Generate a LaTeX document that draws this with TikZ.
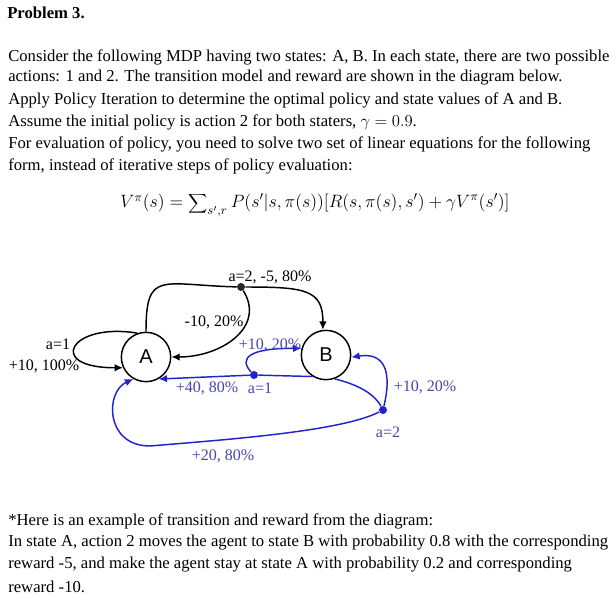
\RequirePackage{fix-cm}
\documentclass[tikz,border=0pt]{standalone}
\usepackage{fontspec}
\setmainfont{Liberation Serif}
\newfontfamily\statefont{Liberation Sans}
\usetikzlibrary{arrows.meta}
\definecolor{ActBlue}{RGB}{35, 35, 205}
\definecolor{LabelBlue}{RGB}{70, 70, 175}
\definecolor{DotGray}{RGB}{40, 40, 40}

\begin{document}
\begin{tikzpicture}[x=0.75pt, y=-0.75pt,
    body/.style={anchor=west, inner sep=0pt, font=\fontsize{12.5}{15}\selectfont},
    state/.style={draw, circle, line width=1.1pt, minimum size=37pt, inner sep=0pt,
        font=\statefont\fontsize{15}{15}\selectfont},
    actdot/.style={circle, fill, inner sep=0pt, minimum size=6pt},
    blk/.style={line width=1.1pt},
    blu/.style={ActBlue, line width=1.1pt},
    tip/.style={-{Latex[length=2.2mm, width=2mm]}},
    lbl/.style={inner sep=0pt, font=\fontsize{12}{14}\selectfont},
    bluelbl/.style={lbl, LabelBlue}]
    \fill[white] (0,0) rectangle (616,599);
    \useasboundingbox (0,0) rectangle (616,599);
    % problem text
    \node[body, font=\bfseries\fontsize{12.5}{15}\selectfont] (title) at (7,13) {Problem 3.};
    \node[body] (t1) at (8,57) {Consider the following MDP having two states: A, B. In each state, there are two possible};
    \node[body] (t2) at (8,78) {actions: 1 and 2. The transition model and reward are shown in the diagram below.};
    \node[body] (t3) at (8,100) {Apply Policy Iteration to determine the optimal policy and state values of A and B.};
    \node[body] (t4) at (8,122) {Assume the initial policy is action 2 for both staters, $\gamma = 0.9$.};
    \node[body] (t5) at (8,144) {For evaluation of policy, you need to solve two set of linear equations for the following};
    \node[body] (t6) at (8,166) {form, instead of iterative steps of policy evaluation:};
    \node[body, font=\fontsize{13.4}{16}\selectfont] (eq) at (120,205)
        {$V^{\pi}(s) = \displaystyle\sum\nolimits_{s',r} P(s'|s,\pi(s))[R(s,\pi(s),s') + \gamma V^{\pi}(s')]$};
    % states and action points
    \node[state] (A) at (146,357) {A};
    \node[state] (B) at (326,355) {B};
    \node[actdot, DotGray] (dA2) at (241,287) {};
    \node[actdot, ActBlue] (dB1) at (254,375) {};
    \node[actdot, ActBlue] (dB2) at (383,410) {};
    % action 1 in A
    \draw[blk, tip] (A.110) .. controls (70,322) and (45,368) .. (A.205);
    \node[lbl] (la1) at (58,344) {a=1};
    \node[lbl] (la1r) at (44,366) {+10, 100\%};
    % action 2 in A
    \draw[blk] (A.north) .. controls +(0,-62) and +(-80,-2) .. (dA2);
    \draw[blk, tip] (dA2) .. controls +(65,0) and +(0,-40) .. (B.97);
    \draw[blk, tip] (dA2) .. controls +(25,40) and +(50,0) .. (A.east);
    \node[lbl] (la2) at (270,277) {a=2, -5, 80\%};
    \node[lbl] (la2s) at (214,322) {-10, 20\%};
    % action 1 in B
    \draw[blu] (B.238) -- (dB1);
    \draw[blu, tip] (dB1) -- (A.300);
    \draw[blu, tip] (dB1) .. controls (238,358) and (250,348) .. (B.165);
    \node[bluelbl] (lb1s) at (270,345) {+10, 20\%};
    \node[bluelbl] (lb1) at (207,388) {+40, 80\%};
    \node[bluelbl] (lb1a) at (260,388) {a=1};
    % action 2 in B
    \draw[blu] (B.290) .. controls (360,385) and (375,395) .. (dB2);
    \draw[blu, tip] (dB2) .. controls (392,372) and (385,352) .. (B.-5);
    \draw[blu, tip] (dB2) .. controls (340,432) and (220,440) .. (150,446)
        .. controls (105,446) and (105,392) .. (A.240);
    \node[bluelbl] (lb2s) at (425,387) {+10, 20\%};
    \node[bluelbl] (lb2a) at (388,432) {a=2};
    \node[bluelbl] (lb2) at (223,456) {+20, 80\%};
    % example text
    \node[body] (t7) at (8,521) {*Here is an example of transition and reward from the diagram:};
    \node[body] (t8) at (8,543) {In state A, action 2 moves the agent to state B with probability 0.8 with the corresponding};
    \node[body] (t9) at (8,565) {reward -5, and make the agent stay at state A with probability 0.2 and corresponding};
    \node[body] (t10) at (8,587) {reward -10.};
\end{tikzpicture}
\end{document}
